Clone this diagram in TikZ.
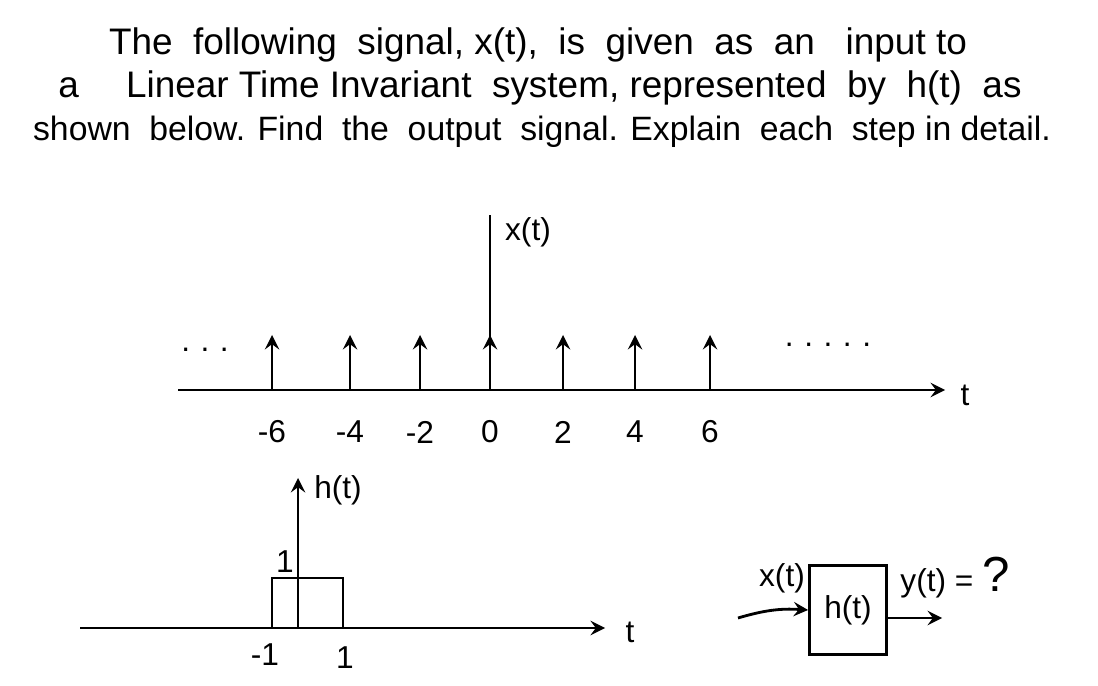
\documentclass[tikz,border=0pt]{standalone}
\usepackage{fontspec}
\setmainfont{Liberation Sans}
\begin{document}
\begin{tikzpicture}[x=0.01cm,y=-0.01cm,
  ln/.style={line width=0.8pt,black},
  ax/.style={ln,-stealth},
  txt/.style={font=\fontsize{10.5pt}{13pt}\selectfont,inner sep=0pt},
  lbl/.style={font=\fontsize{9pt}{11pt}\selectfont,inner sep=1pt}]
\useasboundingbox (0,0) rectangle (1098,686);
% problem text
\node[txt] (l1) at (538,45) {The \ following \ signal, x(t), \ is \ given \ as \ an \ \ input to};
\node[txt] (l2) at (540,88) {a \quad Linear Time Invariant \ system, represented \ by \ h(t) \ as};
\node[txt,font=\fontsize{9.6pt}{12pt}\selectfont] (l3) at (542,132) {shown \ below. Find \ the \ output \ signal. Explain \ each \ step in detail.};
% plot x(t)
\coordinate (xa0) at (178,390); \coordinate (xa1) at (945,390);
\draw[ax] (xa0) -- (xa1);
\node[lbl] (t1) at (965,395) {t};
\coordinate (ya0) at (490,390); \coordinate (ya1) at (490,215);
\draw[ln] (ya0) -- (ya1);
\node[lbl] (xt) at (528,232) {x(t)};
\foreach \x/\l [count=\i] in {272/-6,350/-4,420/-2,490/0,563/2,635/4,710/6}{
  \coordinate (b\i) at (\x,390); \coordinate (p\i) at (\x,335);
  \draw[ax] (b\i) -- (p\i);
  \node[lbl] (tk\i) at (\x,432) {\l};
}
\node[lbl] (dl) at (205,350) {.\,\,.\,\,.};
\node[lbl] (dr) at (828,345) {.\,\,.\,\,.\,\,.\,\,.};
% plot h(t)
\coordinate (ha0) at (80,628); \coordinate (ha1) at (605,628);
\draw[ax] (ha0) -- (ha1);
\node[lbl] (t2) at (630,632) {t};
\coordinate (hv0) at (298,628); \coordinate (hv1) at (298,478);
\draw[ax] (hv0) -- (hv1);
\node[lbl] (ht) at (338,490) {h(t)};
\node[draw,ln,inner sep=0pt,minimum width=0.71cm,minimum height=0.5cm] (rect) at (307.5,603) {};
\node[lbl] (one) at (285,562) {1};
\node[lbl] (m1) at (265,655) {-1};
\node[lbl] (p1) at (345,658) {1};
% system block
\node[draw,ln,minimum width=0.77cm,minimum height=0.89cm,inner sep=0pt] (sys) at (848,610) {\fontsize{9pt}{11pt}\selectfont h(t)};
\coordinate (in0) at (738,618);
\draw[ax] (in0) to[bend left=10] (sys.west);
\node[lbl] (xin) at (782,578) {x(t)};
\coordinate (out1) at (942,618);
\draw[ax] (sys.east |- out1) -- (out1);
\node[lbl] (yout) at (955,578) {y(t) = \fontsize{14pt}{16pt}\selectfont ?};
\end{tikzpicture}
\end{document}
